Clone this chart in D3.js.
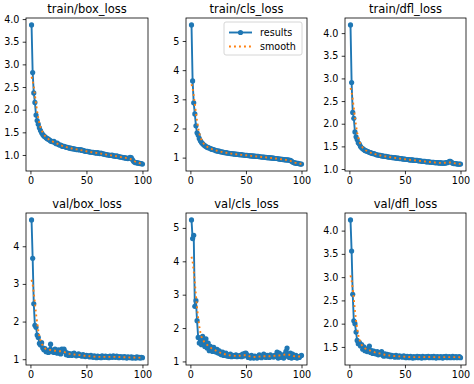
<!DOCTYPE html>
<html><head><meta charset="utf-8">
<script src="https://cdn.jsdelivr.net/npm/d3@7"></script>
<style>body{margin:0;background:#fff}svg{display:block}text{font-family:"DejaVu Sans",sans-serif}</style>
</head><body><svg id="c" width="474" height="384"></svg>
<script>
const epochs = d3.range(1, 101);
const titles = ["train/box_loss","train/cls_loss","train/dfl_loss","val/box_loss","val/cls_loss","val/dfl_loss"];
const trainBox = [3.87,2.82,2.37,2.16,1.88,1.76,1.68,1.60,1.54,1.49,1.45,1.42,1.40,1.38,1.36,1.35,1.33,1.31,1.30,1.29,1.30,1.27,1.25,1.26,1.23,1.22,1.22,1.20,1.19,1.19,1.18,1.17,1.17,1.16,1.15,1.15,1.14,1.14,1.13,1.13,1.12,1.12,1.12,1.11,1.12,1.10,1.10,1.09,1.08,1.08,1.08,1.07,1.07,1.06,1.06,1.06,1.05,1.05,1.04,1.05,1.04,1.03,1.04,1.03,1.02,1.02,1.01,1.01,1.00,1.00,0.99,0.99,1.00,0.98,0.98,0.97,0.98,0.97,0.96,0.96,0.95,0.95,0.94,0.94,0.93,0.93,0.92,0.93,0.95,0.94,0.90,0.86,0.84,0.83,0.83,0.82,0.82,0.81,0.81,0.80];
const trainCls = [5.55,3.63,2.88,2.50,2.09,1.85,1.78,1.66,1.58,1.52,1.48,1.44,1.41,1.38,1.36,1.34,1.33,1.31,1.29,1.28,1.27,1.26,1.24,1.23,1.22,1.22,1.20,1.20,1.19,1.18,1.17,1.17,1.16,1.15,1.15,1.14,1.14,1.13,1.13,1.12,1.12,1.11,1.11,1.10,1.10,1.10,1.09,1.09,1.08,1.08,1.08,1.07,1.07,1.06,1.06,1.06,1.05,1.05,1.04,1.04,1.04,1.03,1.03,1.02,1.02,1.02,1.01,1.01,1.00,1.00,1.00,0.99,0.99,0.98,0.98,0.97,0.97,0.97,0.96,0.95,0.95,0.94,0.94,0.93,0.93,0.92,0.92,0.92,0.91,0.91,0.88,0.85,0.83,0.82,0.81,0.80,0.80,0.79,0.78,0.78];
const trainDfl = [4.18,2.91,2.25,2.12,1.82,1.71,1.65,1.58,1.55,1.50,1.47,1.45,1.43,1.41,1.40,1.39,1.38,1.37,1.36,1.35,1.34,1.34,1.33,1.32,1.31,1.31,1.30,1.30,1.29,1.29,1.28,1.28,1.28,1.27,1.27,1.26,1.26,1.26,1.25,1.25,1.25,1.24,1.24,1.24,1.23,1.23,1.23,1.22,1.22,1.22,1.21,1.21,1.21,1.20,1.20,1.20,1.20,1.19,1.19,1.19,1.19,1.18,1.18,1.18,1.17,1.17,1.17,1.17,1.16,1.16,1.16,1.16,1.15,1.15,1.15,1.15,1.14,1.14,1.14,1.14,1.13,1.14,1.13,1.13,1.13,1.13,1.14,1.14,1.15,1.17,1.17,1.15,1.13,1.12,1.12,1.12,1.11,1.11,1.11,1.11];
const valBox = [4.70,3.68,2.47,1.90,1.85,1.64,1.58,1.42,1.38,1.44,1.30,1.25,1.28,1.20,1.22,1.18,1.25,1.40,1.20,1.24,1.18,1.27,1.22,1.16,1.25,1.20,1.14,1.27,1.22,1.27,1.20,1.12,1.16,1.10,1.15,1.12,1.10,1.15,1.16,1.11,1.09,1.12,1.14,1.10,1.11,1.08,1.12,1.09,1.07,1.10,1.08,1.09,1.06,1.10,1.07,1.05,1.09,1.06,1.04,1.08,1.05,1.07,1.04,1.09,1.06,1.05,1.08,1.05,1.07,1.04,1.08,1.06,1.05,1.09,1.06,1.05,1.08,1.06,1.04,1.07,1.05,1.06,1.04,1.07,1.05,1.03,1.06,1.05,1.04,1.06,1.03,1.05,1.04,1.03,1.06,1.04,1.05,1.03,1.05,1.04];
const valCls = [5.24,4.68,4.78,2.65,2.82,2.22,1.72,1.55,1.70,1.50,1.75,1.60,1.45,1.68,1.40,1.55,1.32,1.45,1.38,1.30,1.42,1.35,1.28,1.36,1.25,1.32,1.22,1.20,1.28,1.18,1.22,1.25,1.16,1.20,1.15,1.22,1.14,1.18,1.16,1.15,1.20,1.14,1.17,1.15,1.18,1.14,1.22,1.16,1.24,1.25,1.20,1.12,1.15,1.10,1.18,1.12,1.10,1.16,1.12,1.10,1.15,1.20,1.13,1.11,1.17,1.22,1.14,1.12,1.18,1.15,1.12,1.20,1.14,1.16,1.13,1.18,1.15,1.28,1.10,1.25,1.12,1.20,1.15,1.10,1.22,1.30,1.40,1.15,1.12,1.25,1.10,1.22,1.15,1.12,1.18,1.10,1.14,1.12,1.16,1.18];
const valDfl = [4.23,3.56,2.63,2.06,2.00,1.82,1.64,1.57,1.60,1.52,1.55,1.45,1.50,1.42,1.46,1.40,1.44,1.52,1.38,1.42,1.36,1.41,1.37,1.35,1.40,1.33,1.38,1.35,1.40,1.32,1.30,1.35,1.31,1.34,1.30,1.33,1.29,1.32,1.30,1.31,1.28,1.32,1.30,1.28,1.31,1.29,1.30,1.28,1.31,1.29,1.27,1.30,1.28,1.27,1.30,1.28,1.26,1.29,1.27,1.28,1.30,1.27,1.29,1.28,1.26,1.30,1.28,1.27,1.29,1.28,1.30,1.27,1.28,1.29,1.27,1.30,1.28,1.26,1.29,1.28,1.27,1.29,1.28,1.26,1.29,1.28,1.30,1.27,1.28,1.29,1.27,1.28,1.30,1.27,1.28,1.29,1.27,1.28,1.29,1.27];
const yTicks = [[1.0,1.5,2.0,2.5,3.0,3.5,4.0],[1,2,3,4,5],[1.0,1.5,2.0,2.5,3.0,3.5,4.0],[1,2,3,4],[1,2,3,4,5],[1.5,2.0,2.5,3.0,3.5,4.0]];
const yFormats = [".1f","d",".1f","d","d",".1f"];
const xTicks = [0,50,100];
const legendLabels = ["results","smooth"];
const series = [trainBox, trainCls, trainDfl, valBox, valCls, valDfl];

// smoothing like scipy gaussian_filter1d(sigma=3, mode='reflect')
function gaussSmooth(y, sigma){
  const r = Math.floor(4*sigma+0.5), w=[]; let s=0;
  for(let k=-r;k<=r;k++){const v=Math.exp(-0.5*k*k/(sigma*sigma)); w.push(v); s+=v;}
  const n=y.length;
  const idx=i=>{ while(i<0||i>=n){ if(i<0) i=-i-1; if(i>=n) i=2*n-i-1; } return i; };
  return y.map((_,i)=>{let a=0; for(let k=-r;k<=r;k++) a+=w[k+r]*y[idx(i+k)]; return a/s;});
}

const svg = d3.select("#c");
const cols = [[26,148],[186,307],[345,466]];
const rows = [[18,171],[213,365]];
const blue="#1f77b4", orange="#ff7f0e";

series.forEach((y,i)=>{
  const c=cols[i%3], r=rows[Math.floor(i/3)];
  const sm = gaussSmooth(y,3);
  const xmin=1,xmax=100, xm=(xmax-xmin)*0.05;
  const all=y.concat(sm); const ymin=d3.min(all), ymax=d3.max(all), ym=(ymax-ymin)*0.05;
  const x=d3.scaleLinear().domain([xmin-xm,xmax+xm]).range(c);
  const ys=d3.scaleLinear().domain([ymin-ym,ymax+ym]).range([r[1],r[0]]);
  const g=svg.append("g");
  const clip="clip"+i;
  g.append("clipPath").attr("id",clip).append("rect").attr("x",c[0]).attr("y",r[0]).attr("width",c[1]-c[0]).attr("height",r[1]-r[0]);
  const pg=g.append("g").attr("clip-path",`url(#${clip})`);
  const line=d3.line().x((d,j)=>x(epochs[j])).y(d=>ys(d));
  pg.append("path").attr("d",line(y)).attr("fill","none").attr("stroke",blue).attr("stroke-width",1.9).attr("stroke-linejoin","round").attr("stroke-linecap","square");
  pg.selectAll("circle").data(y).join("circle").attr("cx",(d,j)=>x(epochs[j])).attr("cy",d=>ys(d)).attr("r",2.6).attr("fill",blue);
  pg.append("path").attr("d",line(sm)).attr("fill","none").attr("stroke",orange).attr("stroke-width",1.9).attr("stroke-dasharray","1.9,3.1");
  // axes
  const xa=g.append("g").attr("transform",`translate(0,${r[1]})`).call(d3.axisBottom(x).tickValues(xTicks).tickSize(3.3).tickPadding(3.3).tickFormat(d3.format("d")));
  const ya=g.append("g").attr("transform",`translate(${c[0]},0)`).call(d3.axisLeft(ys).tickValues(yTicks[i]).tickSize(3.3).tickPadding(3.3).tickFormat(d3.format(yFormats[i])));
  [xa,ya].forEach(a=>{a.select(".domain").remove(); a.selectAll("line").attr("stroke","#000").attr("stroke-width",0.8); a.selectAll("text").attr("font-size",9.6).attr("fill","#000").attr("font-family","DejaVu Sans");});
  g.append("rect").attr("x",c[0]).attr("y",r[0]).attr("width",c[1]-c[0]).attr("height",r[1]-r[0]).attr("fill","none").attr("stroke","#000").attr("stroke-width",0.8);
  g.append("text").attr("x",(c[0]+c[1])/2).attr("y",r[0]-5.5).attr("text-anchor","middle").attr("font-size",11.5).attr("fill","#000").text(titles[i]);
  if(i===1){
    const lg=svg.append("g");
    lg.append("rect").attr("x",224).attr("y",22).attr("width",78).attr("height",33).attr("rx",2).attr("fill","#fff").attr("fill-opacity",0.8).attr("stroke","#cccccc").attr("stroke-width",0.8);
    lg.append("line").attr("x1",229).attr("x2",252).attr("y1",32.5).attr("y2",32.5).attr("stroke",blue).attr("stroke-width",1.9);
    lg.append("circle").attr("cx",240.5).attr("cy",32.5).attr("r",2.6).attr("fill",blue);
    lg.append("line").attr("x1",229).attr("x2",252).attr("y1",46.5).attr("y2",46.5).attr("stroke",orange).attr("stroke-width",1.9).attr("stroke-dasharray","1.9,3.1");
    lg.append("text").attr("x",260).attr("y",36).attr("font-size",9.6).text(legendLabels[0]);
    lg.append("text").attr("x",260).attr("y",50).attr("font-size",9.6).text(legendLabels[1]);
  }
});
</script></body></html>
